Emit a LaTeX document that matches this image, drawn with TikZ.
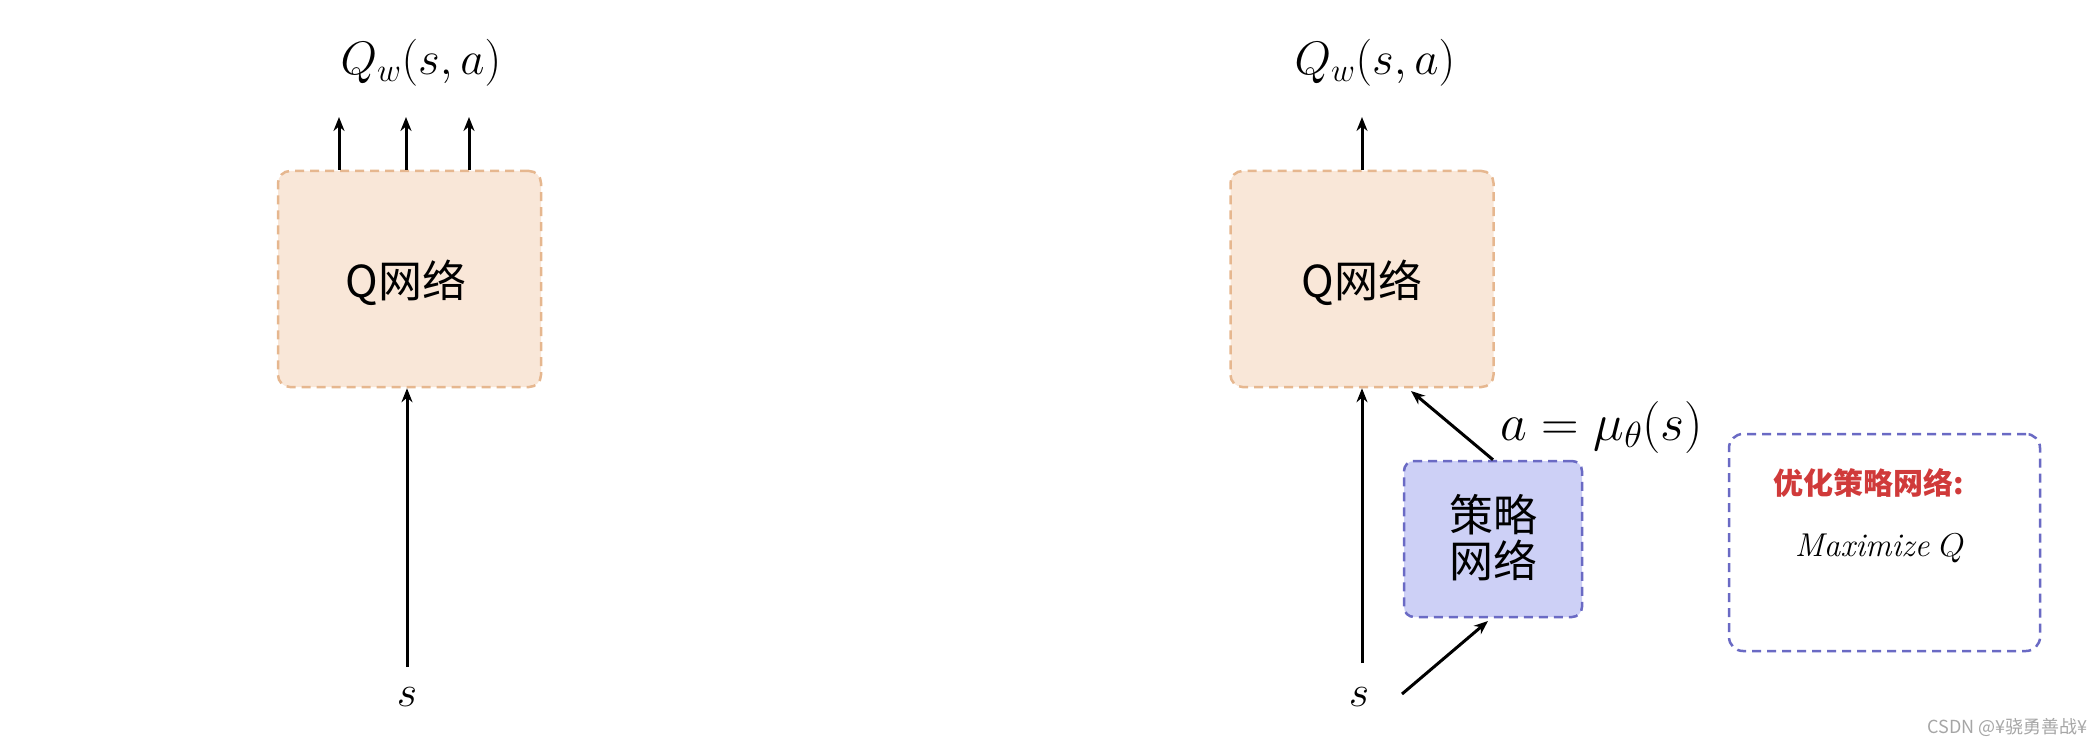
\RequirePackage{fix-cm}
\documentclass[tikz,border=0pt]{standalone}
\usepackage{fontspec}
\newfontfamily\cjk{Noto Sans CJK SC}
\usetikzlibrary{arrows.meta}
\definecolor{qfill}{HTML}{F9E7D8}
\definecolor{qdraw}{HTML}{E6B78F}
\definecolor{pfill}{HTML}{CDD0F6}
\definecolor{pdraw}{HTML}{6A6AC4}
\definecolor{redtxt}{HTML}{D03A3A}
\newcommand{\fs}[1]{\fontsize{#1}{#1}\selectfont}
\tikzset{
  qbox/.style={draw=qdraw, fill=qfill, dash pattern=on 9pt off 6pt, line width=2.5pt, rounded corners=12pt, minimum width=263pt, minimum height=216pt, inner sep=0pt},
  pbox/.style={draw=pdraw, fill=pfill, dash pattern=on 9pt off 6pt, line width=2.5pt, rounded corners=10pt, minimum width=178pt, minimum height=156pt, inner sep=0pt},
  mbox/.style={draw=pdraw, dash pattern=on 9pt off 6pt, line width=2.5pt, rounded corners=14pt, minimum width=311pt, minimum height=217pt, inner sep=0pt},
  arr/.style={-{Stealth[length=14pt,width=11pt]}, line width=3pt},
  lbl/.style={inner sep=0pt}
}
\begin{document}
\begin{tikzpicture}[x=1pt,y=-1pt]
\useasboundingbox (0,0) rectangle (2094,746);
% left
\node[qbox] (q1) at (409.5,279) {};
\node[lbl] (q1t) at (406,283) {\cjk\fs{44}Q网络};
\coordinate (o1a) at (339,117); \coordinate (o1b) at (406,117); \coordinate (o1c) at (469,117);
\draw[arr] (q1.north -| o1a) -- (o1a);
\draw[arr] (q1.north -| o1b) -- (o1b);
\draw[arr] (q1.north -| o1c) -- (o1c);
\node[lbl] (ql1) at (421,63) {\fs{47}$Q_w(s,a)$};
\node[lbl] (s1) at (407,697) {\fs{44}$s$};
\coordinate (s1t) at (407,667);
\draw[arr] (s1t) -- (q1.south -| s1t);
% right
\node[qbox] (q2) at (1362,279) {};
\node[lbl] (q2t) at (1362,283) {\cjk\fs{44}Q网络};
\coordinate (o2) at (1362,117);
\draw[arr] (q2.north -| o2) -- (o2);
\node[lbl] (ql2) at (1375,63) {\fs{47}$Q_w(s,a)$};
\node[lbl] (s2) at (1359,697) {\fs{44}$s$};
\coordinate (s2t) at (1362,663);
\draw[arr] (s2t) -- (q2.south -| s2t);
\node[pbox] (p) at (1493,539) {};
\node[lbl, align=center] (pt) at (1493,538) {\cjk\fs{44}策略\\[4pt]\cjk\fs{44}网络};
\coordinate (sa) at (1402,694); \coordinate (pb) at (1488,621);
\draw[arr] (sa) -- (pb);
\coordinate (qa) at (1411,391);
\draw[arr] (p.north) -- (qa);
\node[lbl] (al) at (1602,427) {\fs{52}$a=\mu_\theta(s)$};
\node[mbox] (m) at (1884.5,542.5) {};
\node[lbl] (mt) at (1869,483) {\cjk\bfseries\color{redtxt}\fs{30}优化策略网络:};
\node[lbl] (mq) at (1880,548) {\fs{33}$\mathit{Maximize}\ Q$};
\node[lbl, anchor=east] (wm) at (2088,727) {\color{gray!70}\cjk\fs{18}CSDN @¥骁勇善战¥};
\end{tikzpicture}
\end{document}
